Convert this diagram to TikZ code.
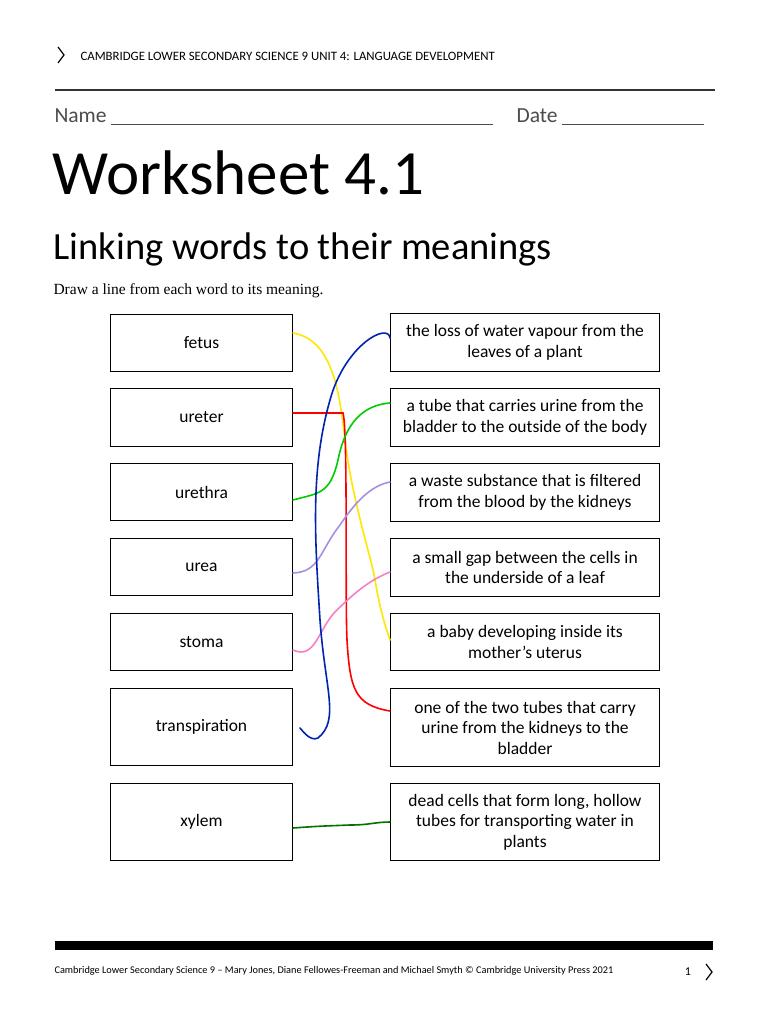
\documentclass[tikz,border=0pt]{standalone}
\usepackage{fontspec}
\setmainfont{Carlito}
\newfontfamily\serifz{Liberation Serif}
\begin{document}
\begin{tikzpicture}[x=1pt,y=-1pt,
  lbox/.style={draw,line width=1pt,minimum width=182pt,anchor=north west,font=\fontsize{17.5}{20.5}\selectfont},
  rbox/.style={draw,line width=1pt,minimum width=269pt,anchor=north west,align=center,font=\fontsize{17.5}{20.5}\selectfont,inner sep=2pt},
  pen/.style={line width=1.6pt,line cap=round},
  chv/.style={line width=1.2pt}]
\useasboundingbox (0,0) rectangle (768,1024);
\fill[white] (0,0) rectangle (768,1024);
\coordinate (c1) at (58,47);
\draw[chv] (c1) -- ++(6,8) -- ++(-6,8);
\node[anchor=west,font=\fontsize{12.8}{15}\selectfont] (hdr) at (77,56) {CAMBRIDGE LOWER SECONDARY SCIENCE 9 UNIT 4: LANGUAGE DEVELOPMENT};
\draw[black!80,line width=1.2pt] (55,90) -- (715,90);
\node[anchor=west,font=\fontsize{21.5}{24}\selectfont,text=black!70] (name) at (51,117) {Name \underline{\hspace{382pt}}};
\node[anchor=west,font=\fontsize{21.5}{24}\selectfont,text=black!70] (date) at (513,117) {Date \underline{\hspace{142pt}}};
\node[anchor=west,font=\fontsize{63}{70}\selectfont] (ws) at (49,173) {Worksheet 4.1};
\node[anchor=west,font=\fontsize{38.5}{44}\selectfont] (sub) at (50,249) {Linking words to their meanings};
\node[anchor=west,font=\serifz\fontsize{15.5}{18}\selectfont] (ins) at (50,291) {Draw a line from each word to its meaning.};
% left boxes
\node[lbox,minimum height=57pt] (l1) at (110,314) {fetus};
\node[lbox,minimum height=58pt] (l2) at (110,388) {ureter};
\node[lbox,minimum height=57pt] (l3) at (110,463) {urethra};
\node[lbox,minimum height=57pt] (l4) at (110,538) {urea};
\node[lbox,minimum height=57pt] (l5) at (110,613) {stoma};
\node[lbox,minimum height=77pt] (l6) at (110,688) {transpiration};
\node[lbox,minimum height=77pt] (l7) at (110,783) {xylem};
% right boxes
\node[rbox,minimum height=58pt] (r1) at (390,313) {the loss of water vapour from the\\leaves of a plant};
\node[rbox,minimum height=58pt] (r2) at (390,388) {a tube that carries urine from the\\bladder to the outside of the body};
\node[rbox,minimum height=58pt] (r3) at (390,463) {a waste substance that is filtered\\from the blood by the kidneys};
\node[rbox,minimum height=58pt] (r4) at (390,538) {a small gap between the cells in\\the underside of a leaf};
\node[rbox,minimum height=57pt] (r5) at (390,613) {a baby developing inside its\\mother's uterus};
\node[rbox,minimum height=78pt] (r6) at (390,688) {one of the two tubes that carry\\urine from the kidneys to the\\bladder};
\node[rbox,minimum height=77pt] (r7) at (390,783) {dead cells that form long, hollow\\tubes for transporting water in\\plants};
% hand-drawn lines
\draw[pen,yellow!90!orange] (293,333) .. controls (335,340) and (340,400) .. (345,440) .. controls (352,500) and (372,560) .. (375,580) .. controls (380,610) and (385,625) .. (390,640);
\draw[pen,red] (293,413) -- (343,413) .. controls (348,430) and (345,600) .. (347,640) .. controls (350,690) and (355,705) .. (390,711);
\draw[pen,green!80!black] (293,500) .. controls (318,493) and (330,495) .. (338,460) .. controls (346,420) and (365,405) .. (390,403);
\draw[pen,blue!30!white!80!violet] (293,573) .. controls (320,572) and (320,550) .. (340,525) .. controls (360,495) and (375,485) .. (390,482);
\draw[pen,magenta!50!white] (293,650) .. controls (315,660) and (318,630) .. (335,612) .. controls (355,592) and (370,580) .. (390,572);
\draw[pen,blue!80!cyan!70!black] (390,338) .. controls (388,322) and (345,345) .. (330,400) .. controls (310,470) and (315,540) .. (320,620) .. controls (325,690) and (340,720) .. (318,738) .. controls (310,742) and (302,730) .. (300,728);
\draw[pen,green!45!black] (293,828) .. controls (320,826) and (325,826) .. (350,825) .. controls (370,825) and (375,822) .. (390,822);
% footer
\fill (55,941) rectangle (713,950);
\node[anchor=west,font=\fontsize{10.3}{12}\selectfont] (foot) at (51,971) {Cambridge Lower Secondary Science 9 -- Mary Jones, Diane Fellowes-Freeman and Michael Smyth \textcopyright{} Cambridge University Press 2021};
\node[font=\fontsize{12}{14}\selectfont] (pg) at (688,972) {1};
\coordinate (c2) at (706,964);
\draw[chv] (c2) -- ++(6,8) -- ++(-6,8);
\end{tikzpicture}
\end{document}
